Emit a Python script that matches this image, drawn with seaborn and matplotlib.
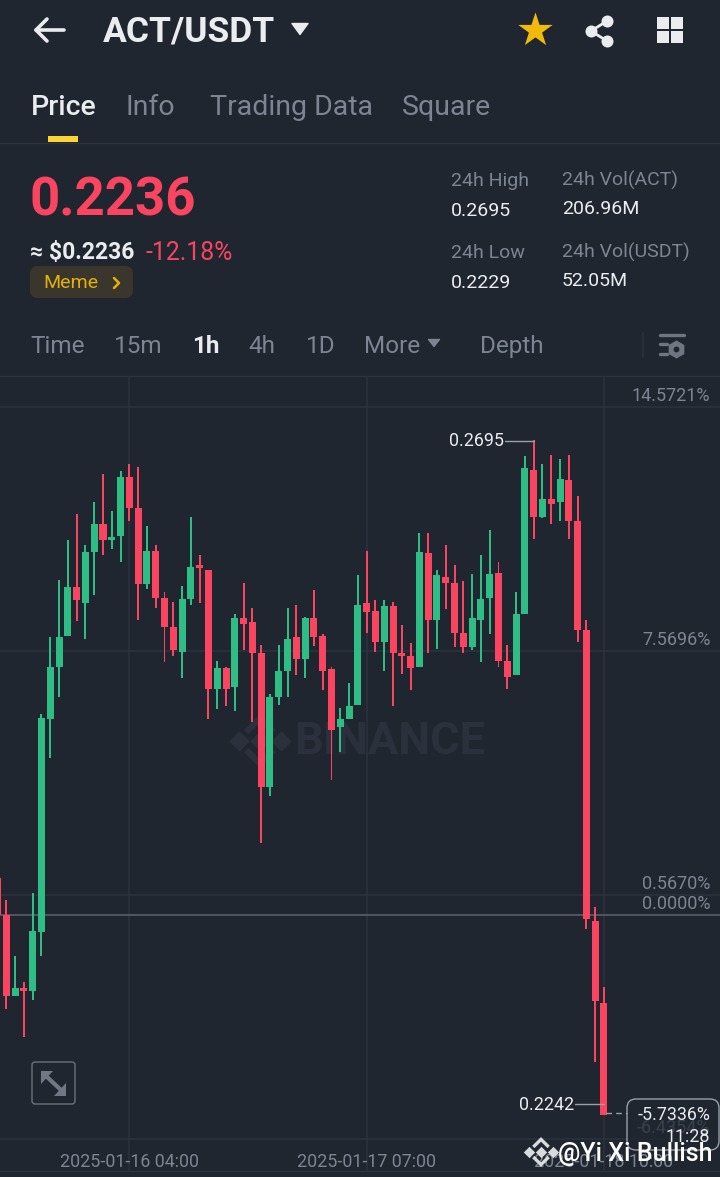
import numpy as np
import pandas as pd
import matplotlib.pyplot as plt
from matplotlib.patches import FancyBboxPatch, Polygon, Rectangle
from matplotlib.transforms import ScaledTranslation
import seaborn as sns

# hourly candles, first one is cut by the left edge
opens = [0.2397, 0.2372, 0.2317, 0.2322, 0.2320, 0.2360, 0.2505, 0.2541, 0.2562, 0.2595,
         0.2584, 0.2619, 0.2638, 0.2627, 0.2630, 0.2670, 0.2649, 0.2597, 0.2620, 0.2588,
         0.2568, 0.2551, 0.2587, 0.2610, 0.2607, 0.2526, 0.2540, 0.2527, 0.2574, 0.2571,
         0.2550, 0.2459, 0.2520, 0.2538, 0.2561, 0.2546, 0.2574, 0.2562, 0.2539, 0.2500,
         0.2505, 0.2515, 0.2584, 0.2579, 0.2558, 0.2582, 0.2550, 0.2548, 0.2541, 0.2618,
         0.2573, 0.2602, 0.2598, 0.2564, 0.2554, 0.2573, 0.2588, 0.2605, 0.2545, 0.2535,
         0.2577, 0.2675, 0.2643, 0.2655, 0.2653, 0.2668, 0.2640, 0.2566, 0.2368, 0.2312]
highs = [0.2397, 0.2382, 0.2344, 0.2326, 0.2387, 0.2509, 0.2561, 0.2600, 0.2627, 0.2645,
         0.2624, 0.2653, 0.2672, 0.2647, 0.2674, 0.2679, 0.2677, 0.2637, 0.2624, 0.2592,
         0.2585, 0.2596, 0.2643, 0.2617, 0.2607, 0.2545, 0.2541, 0.2577, 0.2598, 0.2581,
         0.2556, 0.2522, 0.2556, 0.2581, 0.2583, 0.2575, 0.2593, 0.2563, 0.2541, 0.2513,
         0.2530, 0.2603, 0.2620, 0.2586, 0.2586, 0.2585, 0.2569, 0.2557, 0.2632, 0.2632,
         0.2607, 0.2624, 0.2610, 0.2599, 0.2604, 0.2617, 0.2634, 0.2612, 0.2556, 0.2592,
         0.2684, 0.2695, 0.2679, 0.2685, 0.2682, 0.2685, 0.2657, 0.2573, 0.2377, 0.2323]
lows = [0.2372, 0.2308, 0.2317, 0.2289, 0.2314, 0.2344, 0.2479, 0.2520, 0.2562, 0.2572,
        0.2560, 0.2590, 0.2617, 0.2621, 0.2612, 0.2640, 0.2573, 0.2594, 0.2581, 0.2544,
        0.2548, 0.2533, 0.2583, 0.2584, 0.2505, 0.2512, 0.2514, 0.2511, 0.2552, 0.2503,
        0.2421, 0.2453, 0.2515, 0.2520, 0.2535, 0.2533, 0.2555, 0.2525, 0.2464, 0.2483,
        0.2505, 0.2515, 0.2564, 0.2551, 0.2538, 0.2514, 0.2536, 0.2525, 0.2541, 0.2550,
        0.2553, 0.2580, 0.2554, 0.2550, 0.2552, 0.2544, 0.2563, 0.2541, 0.2526, 0.2535,
        0.2577, 0.2628, 0.2642, 0.2638, 0.2640, 0.2628, 0.2558, 0.2362, 0.2272, 0.2236]
closes = [0.2372, 0.2317, 0.2322, 0.2320, 0.2361, 0.2506, 0.2541, 0.2561, 0.2595, 0.2586,
          0.2619, 0.2638, 0.2627, 0.2629, 0.2670, 0.2649, 0.2597, 0.2620, 0.2588, 0.2568,
          0.2552, 0.2587, 0.2609, 0.2608, 0.2526, 0.2540, 0.2526, 0.2574, 0.2570, 0.2550,
          0.2459, 0.2520, 0.2538, 0.2560, 0.2546, 0.2574, 0.2561, 0.2538, 0.2498, 0.2505,
          0.2514, 0.2583, 0.2578, 0.2558, 0.2582, 0.2550, 0.2548, 0.2540, 0.2619, 0.2573,
          0.2603, 0.2598, 0.2564, 0.2554, 0.2574, 0.2587, 0.2604, 0.2545, 0.2534, 0.2577,
          0.2676, 0.2643, 0.2655, 0.2652, 0.2669, 0.2640, 0.2566, 0.2369, 0.2313, 0.2236]

base_price = 0.2372
pct_ticks = [14.5721, 7.5696, 0.5670, 0.0, -6.4354]
pct_labels = ['14.5721%', '7.5696%', '0.5670%', '0.0000%', '-6.4354%']
time_ticks = [14, 41, 68]
time_labels = ['2025-01-16 04:00', '2025-01-17 07:00', '2025-01-18 10:00']

BG = '#1f2630'
GREEN = '#2ebd85'
RED = '#fb4560'
GRID = '#2c333e'
GREY = '#7d8592'
WHITE = '#eaecef'
WM = '#2b313c'

sns.set_theme(style='dark', rc={'figure.facecolor': BG, 'axes.facecolor': BG,
                                'savefig.facecolor': BG})
plt.rcParams['font.family'] = ['Roboto', 'DejaVu Sans']

df = pd.DataFrame({'t': np.arange(-1, 69), 'open': opens, 'high': highs, 'low': lows, 'close': closes})
df['up'] = df['close'] >= df['open']
df['body_low'] = df[['open', 'close']].min(axis=1)
df['body_h'] = (df['open'] - df['close']).abs()
df['wick_h'] = df['high'] - df['low']

W, H = 720, 1177
fig = plt.figure(figsize=(W / 100, H / 100), dpi=100)


def pixel_axes(zorder):
    a = fig.add_axes([0, 0, 1, 1], zorder=zorder)
    a.set_xlim(0, W)
    a.set_ylim(H, 0)
    a.axis('off')
    return a


def binance_logo(a, cx, cy, r, color, lw):
    # two chevrons, two side diamonds and one in the middle
    for sign in (-1, 1):
        a.plot([cx - r * 0.55, cx, cx + r * 0.55],
               [cy + sign * r * 0.36, cy + sign * r * 0.9, cy + sign * r * 0.36],
               color=color, lw=lw, solid_joinstyle='miter', solid_capstyle='butt')
    a.scatter([cx - r * 0.85, cx + r * 0.85, cx], [cy, cy, cy], marker='D', s=(r * 0.3) ** 2 * 1.9,
              color=color, linewidths=0)


# watermark goes under the candles
back = pixel_axes(0)
binance_logo(back, 260, 741, 25, WM, 4.5)
back.text(294, 741.5, 'BINANCE', fontsize=32.5, color=WM, fontweight='bold', va='center')

# chart area: y pixels 376..1172
ax = fig.add_axes([0, (H - 1172) / H, 1, (1172 - 376) / H], zorder=1)
ax.patch.set_alpha(0)
ax.set_axisbelow(True)

for up, color in [(True, GREEN), (False, RED)]:
    sub = df[df['up'] == up]
    sns.barplot(data=sub, x='t', y='wick_h', bottom=sub['low'].values, native_scale=True,
                width=0.22, color=color, saturation=1, errorbar=None, ax=ax, zorder=3, linewidth=0)
    sns.barplot(data=sub, x='t', y='body_h', bottom=sub['body_low'].values, native_scale=True,
                width=0.8, color=color, saturation=1, errorbar=None, ax=ax, zorder=3, linewidth=0)

ax.set_xlim(-0.717, 81.2)
ax.set_ylim(0.21969, 0.27388)
ax.set_xlabel('')
ax.set_ylabel('')

ax.set_xticks(time_ticks)
ax.set_xticklabels(time_labels, color=GREY, fontsize=12.9)
ax.tick_params(axis='x', length=0, pad=-14, labelbottom=True)

ax.yaxis.tick_right()
ax.set_yticks([base_price * (1 + p / 100) for p in pct_ticks])
ax.set_yticklabels(pct_labels, color=GREY, fontsize=13)
ax.tick_params(axis='y', length=0, pad=-7)
shift_up = ScaledTranslation(0, 2 / 100, fig.dpi_scale_trans)
for lab in ax.get_yticklabels():
    lab.set_ha('right')
    lab.set_va('bottom')
    lab.set_transform(lab.get_transform() + shift_up)
ax.grid(True, color=GRID, lw=1.1)
ax.axhline(base_price, color='#5b616c', lw=1.1, zorder=2)
for s in ax.spines.values():
    s.set_visible(False)

# everything else is drawn in pixel coordinates on top
ui = pixel_axes(5)


def txt(x, y, s, size, color=WHITE, weight='normal', ha='left', **kw):
    return ui.text(x, y + 1.5, s, fontsize=size, color=color, fontweight=weight, ha=ha, va='center', **kw)


def tri(cx, cy, w, h, color):
    ui.add_patch(Polygon([(cx - w / 2, cy - h / 2), (cx + w / 2, cy - h / 2), (cx, cy + h / 2)],
                         color=color, joinstyle='round', lw=1))


# top bar
ui.plot([36, 64], [30, 30], color=WHITE, lw=2.6, solid_capstyle='round')
ui.plot([47, 36, 47], [19, 30, 41], color=WHITE, lw=2.6, solid_capstyle='round')
txt(103, 31, 'ACT/USDT', 25.5, weight='bold')
tri(300, 29, 16, 11, WHITE)
ui.scatter([535], [30], marker='*', s=680, color='#f0b90b', linewidths=0, zorder=6)
ui.plot([607, 591, 607], [21, 31, 41], color=WHITE, lw=2)
ui.scatter([607, 591, 607], [21, 31, 41], s=75, color=WHITE, linewidths=0, zorder=6)
for gx in (657, 671):
    for gy in (17, 31):
        ui.add_patch(Rectangle((gx, gy), 12, 12, color=WHITE, lw=0))

# tabs
txt(31, 106, 'Price', 20.5, weight='medium')
txt(126, 106, 'Info', 20.5, color=GREY)
txt(210, 106, 'Trading Data', 20.5, color=GREY)
txt(402, 106, 'Square', 20.5, color=GREY)
ui.add_patch(Rectangle((48, 136), 30, 6, color='#fcd535', lw=0))
ui.plot([0, W], [142.5, 142.5], color=GRID, lw=1)

# price block
txt(30, 200, '0.2236', 38, color=RED, weight='bold')
txt(30, 251, '≈ $0.2236', 16.5, weight='bold')
txt(146, 251, '-12.18%', 17.8, color=RED)
ui.add_patch(FancyBboxPatch((36, 272), 91, 20, boxstyle='round,pad=6,rounding_size=8',
                            facecolor='#3a362b', edgecolor='none'))
txt(43, 282, 'Meme', 14, color='#e4b00c')
ui.plot([114, 119, 114], [278, 283, 288], color='#e4b00c', lw=1.8)

txt(451, 180, '24h High', 14, color=GREY)
txt(451, 209, '0.2695', 14)
txt(451, 252, '24h Low', 14, color=GREY)
txt(451, 281, '0.2229', 14)
txt(562, 179, '24h Vol(ACT)', 14, color=GREY)
txt(562, 207, '206.96M', 14)
txt(562, 251, '24h Vol(USDT)', 14, color=GREY)
txt(562, 279, '52.05M', 14)

# interval row
for x0, lab in [(30, 'Time'), (114, '15m'), (248, '4h'), (306, '1D'), (364, 'More'), (480, 'Depth')]:
    txt(x0, 345, lab, 17.5, color=GREY)
txt(192, 345, '1h', 17.5, weight='bold')
tri(434, 343, 11, 7, GREY)
ui.plot([642.5, 642.5], [333, 357], color=GRID, lw=1.2)
ui.plot([660, 684], [335, 335], color='#6f7682', lw=2.4)
ui.plot([660, 667], [344, 344], color='#6f7682', lw=2.4)
ui.plot([660, 667], [354, 354], color='#6f7682', lw=2.4)
ui.scatter([676], [349], marker='h', s=170, color='#6f7682', linewidths=0)
ui.scatter([676], [349], s=18, color=BG, linewidths=0, zorder=6)
ui.plot([0, W], [375.5, 375.5], color=GRID, lw=1)
ui.plot([0, W], [1171, 1171], color=GRID, lw=1)

# high / low markers
txt(504, 440, '0.2695', 12.9, ha='right')
ui.plot([505, 534], [441, 441], color='#9aa0a8', lw=1)
txt(574, 1103, '0.2242', 12.9, ha='right')
ui.plot([575, 604], [1104, 1104], color='#9aa0a8', lw=1)
ui.plot([606, 627], [1113, 1113], color='#9aa0a8', lw=1, ls=(0, (4, 3)))

# expand button
ui.add_patch(FancyBboxPatch((32, 1062), 43, 42, boxstyle='round,pad=0,rounding_size=3',
                            facecolor=BG, edgecolor='#6b717c', lw=1))
ui.plot([46, 62], [1076, 1091], color='#717884', lw=3)
ui.add_patch(Polygon([(41, 1071), (53, 1071), (41, 1084)], color='#717884', lw=0))
ui.add_patch(Polygon([(66, 1096), (54, 1096), (66, 1083)], color='#717884', lw=0))

# current price box
ui.add_patch(FancyBboxPatch((627, 1099), 92, 51, boxstyle='round,pad=0,rounding_size=9',
                            facecolor=(0.12, 0.15, 0.19, 0.72), edgecolor='#9aa0a8', lw=1))
txt(710, 1114, '-5.7336%', 12.9, ha='right')
txt(710, 1136, '11:28', 12.9, ha='right')

# repost watermark
txt(558, 1152, '@Yi Xi Bullish', 18, color='#ffffff', weight='medium')
binance_logo(ui, 541, 1152, 14, '#d8dadd', 2.4)

fig.savefig('out.png', dpi=100)
